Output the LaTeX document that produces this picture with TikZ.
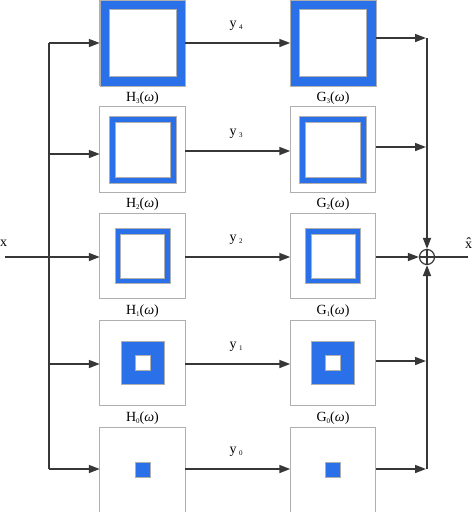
\documentclass[tikz,border=0pt]{standalone}
\usepackage{fontspec}
\setmainfont{Liberation Serif}
\usetikzlibrary{arrows.meta,calc}
\definecolor{fblue}{RGB}{42,112,232}
\definecolor{wirec}{RGB}{55,55,55}
\definecolor{boxgray}{RGB}{175,175,175}
\begin{document}
\begin{tikzpicture}[x=1pt,y=-1pt,
  cell/.style={draw=boxgray,line width=0.8pt,fill=white,minimum size=85.5pt,inner sep=0pt,outer sep=0pt},
  bluesq/.style={draw=boxgray,line width=0.5pt,fill=fblue,inner sep=0pt,outer sep=0pt},
  whitesq/.style={draw=boxgray,line width=0.5pt,fill=white,inner sep=0pt,outer sep=0pt},
  wire/.style={draw=wirec,line width=1.6pt},
  arr/.style={wire,-{Triangle[length=11pt,width=8pt]}},
  lbl/.style={font=\fontsize{14}{14}\selectfont,inner sep=0pt,anchor=base},
  ylbl/.style={font=\fontsize{14}{14}\selectfont,inner sep=0pt,anchor=base}]
\useasboundingbox (0,0) rectangle (474,512);
\fill[white] (0,0) rectangle (474,512);
\foreach \k/\cy/\o/\i/\ya/\ym/\yo in {4/43/85.5/67/43/43/38, 3/149.5/67/55/154/151/147, 2/256/55/44/257/257/257, 1/363/43/15/364/364/361, 0/470/15/0/469/469/469} {
  \node[cell] (H\k) at (142.5,\cy) {};
  \node[cell] (G\k) at (333,\cy) {};
  \node[bluesq,minimum size=\o pt] (H\k o) at (H\k) {};
  \node[bluesq,minimum size=\o pt] (G\k o) at (G\k) {};
  \ifdim\i pt>0pt
    \node[whitesq,minimum size=\i pt] (H\k i) at (H\k) {};
    \node[whitesq,minimum size=\i pt] (G\k i) at (G\k) {};
  \fi
  \ifnum\k<4
    \node[lbl] (HL\k) at ($(H\k.north)+(0,-5.5)$) {H\raisebox{-2pt}{\fontsize{7}{7}\selectfont\k}(\textit{ω})};
    \node[lbl] (GL\k) at ($(G\k.north)+(0,-5.5)$) {G\raisebox{-2pt}{\fontsize{7}{7}\selectfont\k}(\textit{ω})};
  \fi
  \coordinate (L\k) at (49,\ya);
  \coordinate (M\k) at (236,\ym);
  \coordinate (R\k) at (427,\yo);
  \draw[arr] (H\k.east |- M\k) -- (G\k.west |- M\k);
  \node[ylbl] (Y\k) at ($(M\k)+(0,-16)$) {y\hspace{2.5pt}\raisebox{-2.5pt}{\fontsize{7}{7}\selectfont\k}};
}
% left bus
\coordinate (IN) at (5,257);
\draw[wire] (L4) -- (L0);
\draw[arr] (IN) -- (H2.west |- IN);
\foreach \k in {4,3,1,0} { \draw[arr] (L\k) -- (H\k.west |- L\k); }
\node[inner sep=0pt,anchor=base west,font=\fontsize{14}{14}\selectfont] (xin) at (0,246) {x};
% summation
\node[circle,draw=wirec,line width=1.2pt,minimum size=15pt,inner sep=0pt,fill=white] (S) at (427,257) {};
\draw[wirec,line width=1.2pt] ($(S.north)$) -- (S.south) (S.west) -- (S.east);
\draw[arr] (G2.east |- S) -- (S.west);
\foreach \k in {4,3,1,0} { \draw[arr] (G\k.east |- R\k) -- ($(R\k)+(-1,0)$); }
\draw[wire] (R4) -- (R3);
\draw[arr] (R3) -- (S.north);
\draw[wire] (R0) -- (R1);
\draw[arr] (R1) -- (S.south);
\coordinate (OUT) at (468,257);
\draw[wire] (S.east) -- (OUT);
\node[inner sep=0pt,anchor=base west,font=\fontsize{14}{14}\selectfont] (xout) at (465,248) {\^{x}};
\end{tikzpicture}
\end{document}
